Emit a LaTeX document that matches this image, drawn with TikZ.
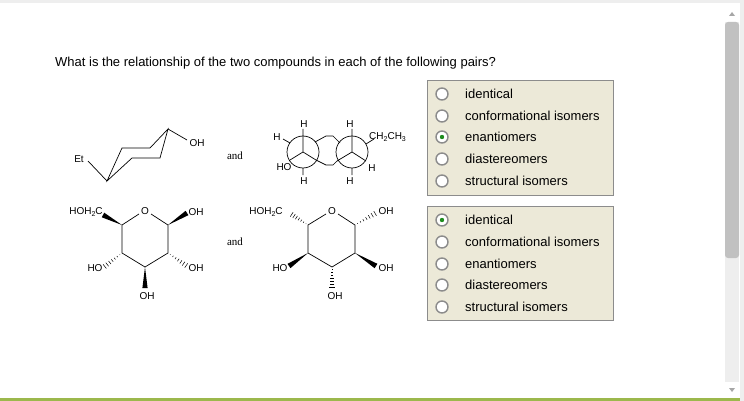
\documentclass[tikz,border=0pt]{standalone}
\usepackage{fontspec}
\setmainfont{Liberation Sans}
\newfontfamily\serifand{Liberation Serif}
\usetikzlibrary{calc}
\definecolor{boxbg}{HTML}{ECE9D8}
\definecolor{boxline}{HTML}{8C8C8C}
\definecolor{selgreen}{HTML}{1E8C1E}
\definecolor{barbg}{HTML}{EEEEEE}
\definecolor{thumb}{HTML}{C1C1C1}
\definecolor{olive}{HTML}{9CB84C}
\newcommand{\lsub}[1]{\raisebox{-2pt}{\fontsize{7}{7}\selectfont #1}}
\newcommand{\wedgeb}[2]{\fill #1 -- ($#2!2.6pt!90:#1$) -- ($#2!2.6pt!-90:#1$) -- cycle;}
\newcommand{\hashb}[2]{\foreach \t in {0.12,0.26,0.40,0.54,0.68,0.82,0.96}{\pgfmathsetmacro\hw{\t*2.8}\draw[line width=0.5pt] ($#1!\t!#2!\hw pt!90:#2$) -- ($#1!\t!#2!\hw pt!-90:#2$);}}
\tikzset{
  ui/.style={font=\fontsize{13}{15}\selectfont, anchor=west, inner sep=0pt},
  lab/.style={font=\fontsize{10}{12}\selectfont, inner sep=0pt},
  andt/.style={font=\serifand\fontsize{11}{12}\selectfont, inner sep=0pt},
  radio/.style={circle, draw=boxline, line width=1.4pt, fill=white, minimum size=12pt, inner sep=0pt},
  optbox/.style={draw=boxline, line width=1pt, fill=boxbg},
  bond/.style={line width=0.7pt}
}
\begin{document}
\begin{tikzpicture}[x=1pt,y=-1pt]
\useasboundingbox (0,0) rectangle (744,401);
\fill[white] (0,0) rectangle (744,401);
\fill[barbg] (0,0) rectangle (744,3);
\fill[barbg] (740,0) rectangle (744,401);
% scrollbar
\fill[barbg] (725,22) rectangle (739,382);
\fill[thumb, rounded corners=3pt] (725,22) rectangle (739,258);
\fill[gray!70] (729,16) -- (735,16) -- (732,12) -- cycle;
\fill[gray!70] (729,388) -- (735,388) -- (732,392) -- cycle;
\fill[olive] (0,398) rectangle (740,401);
\node[ui] (q) at (55,63) {What is the relationship of the two compounds in each of the following pairs?};
% option boxes
\node[optbox, minimum width=186pt, minimum height=115pt, anchor=north west, inner sep=0pt] (box1) at (427,80) {};
\node[optbox, minimum width=186pt, minimum height=114pt, anchor=north west, inner sep=0pt] (box2) at (427,206) {};
\foreach \y/\t/\n in {94/identical/a1,116/conformational isomers/a2,137/enantiomers/a3,159/diastereomers/a4,181/structural isomers/a5}{
  \node[radio] (r\n) at (442,\y) {};
  \node[ui] (t\n) at (465,\y) {\t};
}
\foreach \y/\t/\n in {220/identical/b1,242/conformational isomers/b2,264/enantiomers/b3,285/diastereomers/b4,307/structural isomers/b5}{
  \node[radio] (r\n) at (442,\y) {};
  \node[ui] (t\n) at (465,\y) {\t};
}
\fill[selgreen] (ra3) circle (2.2pt);
\fill[selgreen] (rb1) circle (2.2pt);
% chair
\draw[bond] (107,181) -- (122,148) -- (150,148) -- (168,129) -- (160,158) -- (132,158) -- cycle;
\node[lab] (et) at (79,159) {Et};
\draw[bond] (88,161) -- (107,181);
\draw[bond] (168,129) -- (187,140);
\node[lab] (oh1) at (197,143) {OH};
\node[andt] (and1) at (235,156) {and};
% Newman projections
\draw[bond] (303,152) circle (16);
\draw[bond] (352,152) circle (16);
\node[lab] (h1) at (304,124) {H};
\node[lab] (h2) at (304,181) {H};
\node[lab] (h3) at (277,137) {H};
\node[lab] (ho1) at (284,167) {HO};
\node[lab] (h4) at (350,124) {H};
\node[lab] (h5) at (350,181) {H};
\node[lab] (h6) at (372,168) {H};
\node[lab, anchor=west] (eth) at (369,137) {CH\lsub{2}CH\lsub{3}};
\draw[bond] (303,152) -- (303,129) (303,152) -- (290,160) (303,152) -- (316,160);
\draw[bond] (290,143) -- (283,139) (303,168) -- (303,175) (315,142) -- (326,136) -- (333,136) -- (340,143);
\draw[bond] (316,160) -- (326,165) -- (333,165) -- (337,161);
\draw[bond] (352,152) -- (352,129) (352,152) -- (337,161) (352,152) -- (366,161);
\draw[bond] (366,144) -- (374,139) (352,168) -- (352,175);
% left pyranose
\node[lab] (o1) at (145,211) {O};
\draw[bond] (139,214) -- (122,225) -- (122,253) -- (145,267) -- (168,253) -- (168,225) -- (151,214);
\node[lab] (hoh1) at (86,212) {HOH\lsub{2}C};
\wedgeb{(122,225)}{(103,215)}
\wedgeb{(168,225)}{(187,213)}
\node[lab] (oh2) at (196,212) {OH};
\hashb{(122,253)}{(104,267)}
\node[lab] (ho2) at (95,268) {HO};
\hashb{(168,253)}{(187,266)}
\node[lab] (oh3) at (196,268) {OH};
\wedgeb{(145,267)}{(145,288)}
\node[lab] (oh4) at (147,296) {OH};
\node[andt] (and2) at (235,242) {and};
% right pyranose
\node[lab] (o2) at (332,211) {O};
\draw[bond] (326,214) -- (308,225) -- (308,253) -- (332,267) -- (355,253) -- (355,225) -- (338,214);
\node[lab] (hoh2) at (266,212) {HOH\lsub{2}C};
\hashb{(308,225)}{(291,214)}
\hashb{(355,225)}{(376,213)}
\node[lab] (oh5) at (386,211) {OH};
\wedgeb{(308,253)}{(289,266)}
\node[lab] (ho3) at (280,268) {HO};
\wedgeb{(355,253)}{(376,266)}
\node[lab] (oh6) at (386,268) {OH};
\hashb{(332,267)}{(332,288)}
\node[lab] (oh7) at (335,296) {OH};
\end{tikzpicture}
\end{document}
